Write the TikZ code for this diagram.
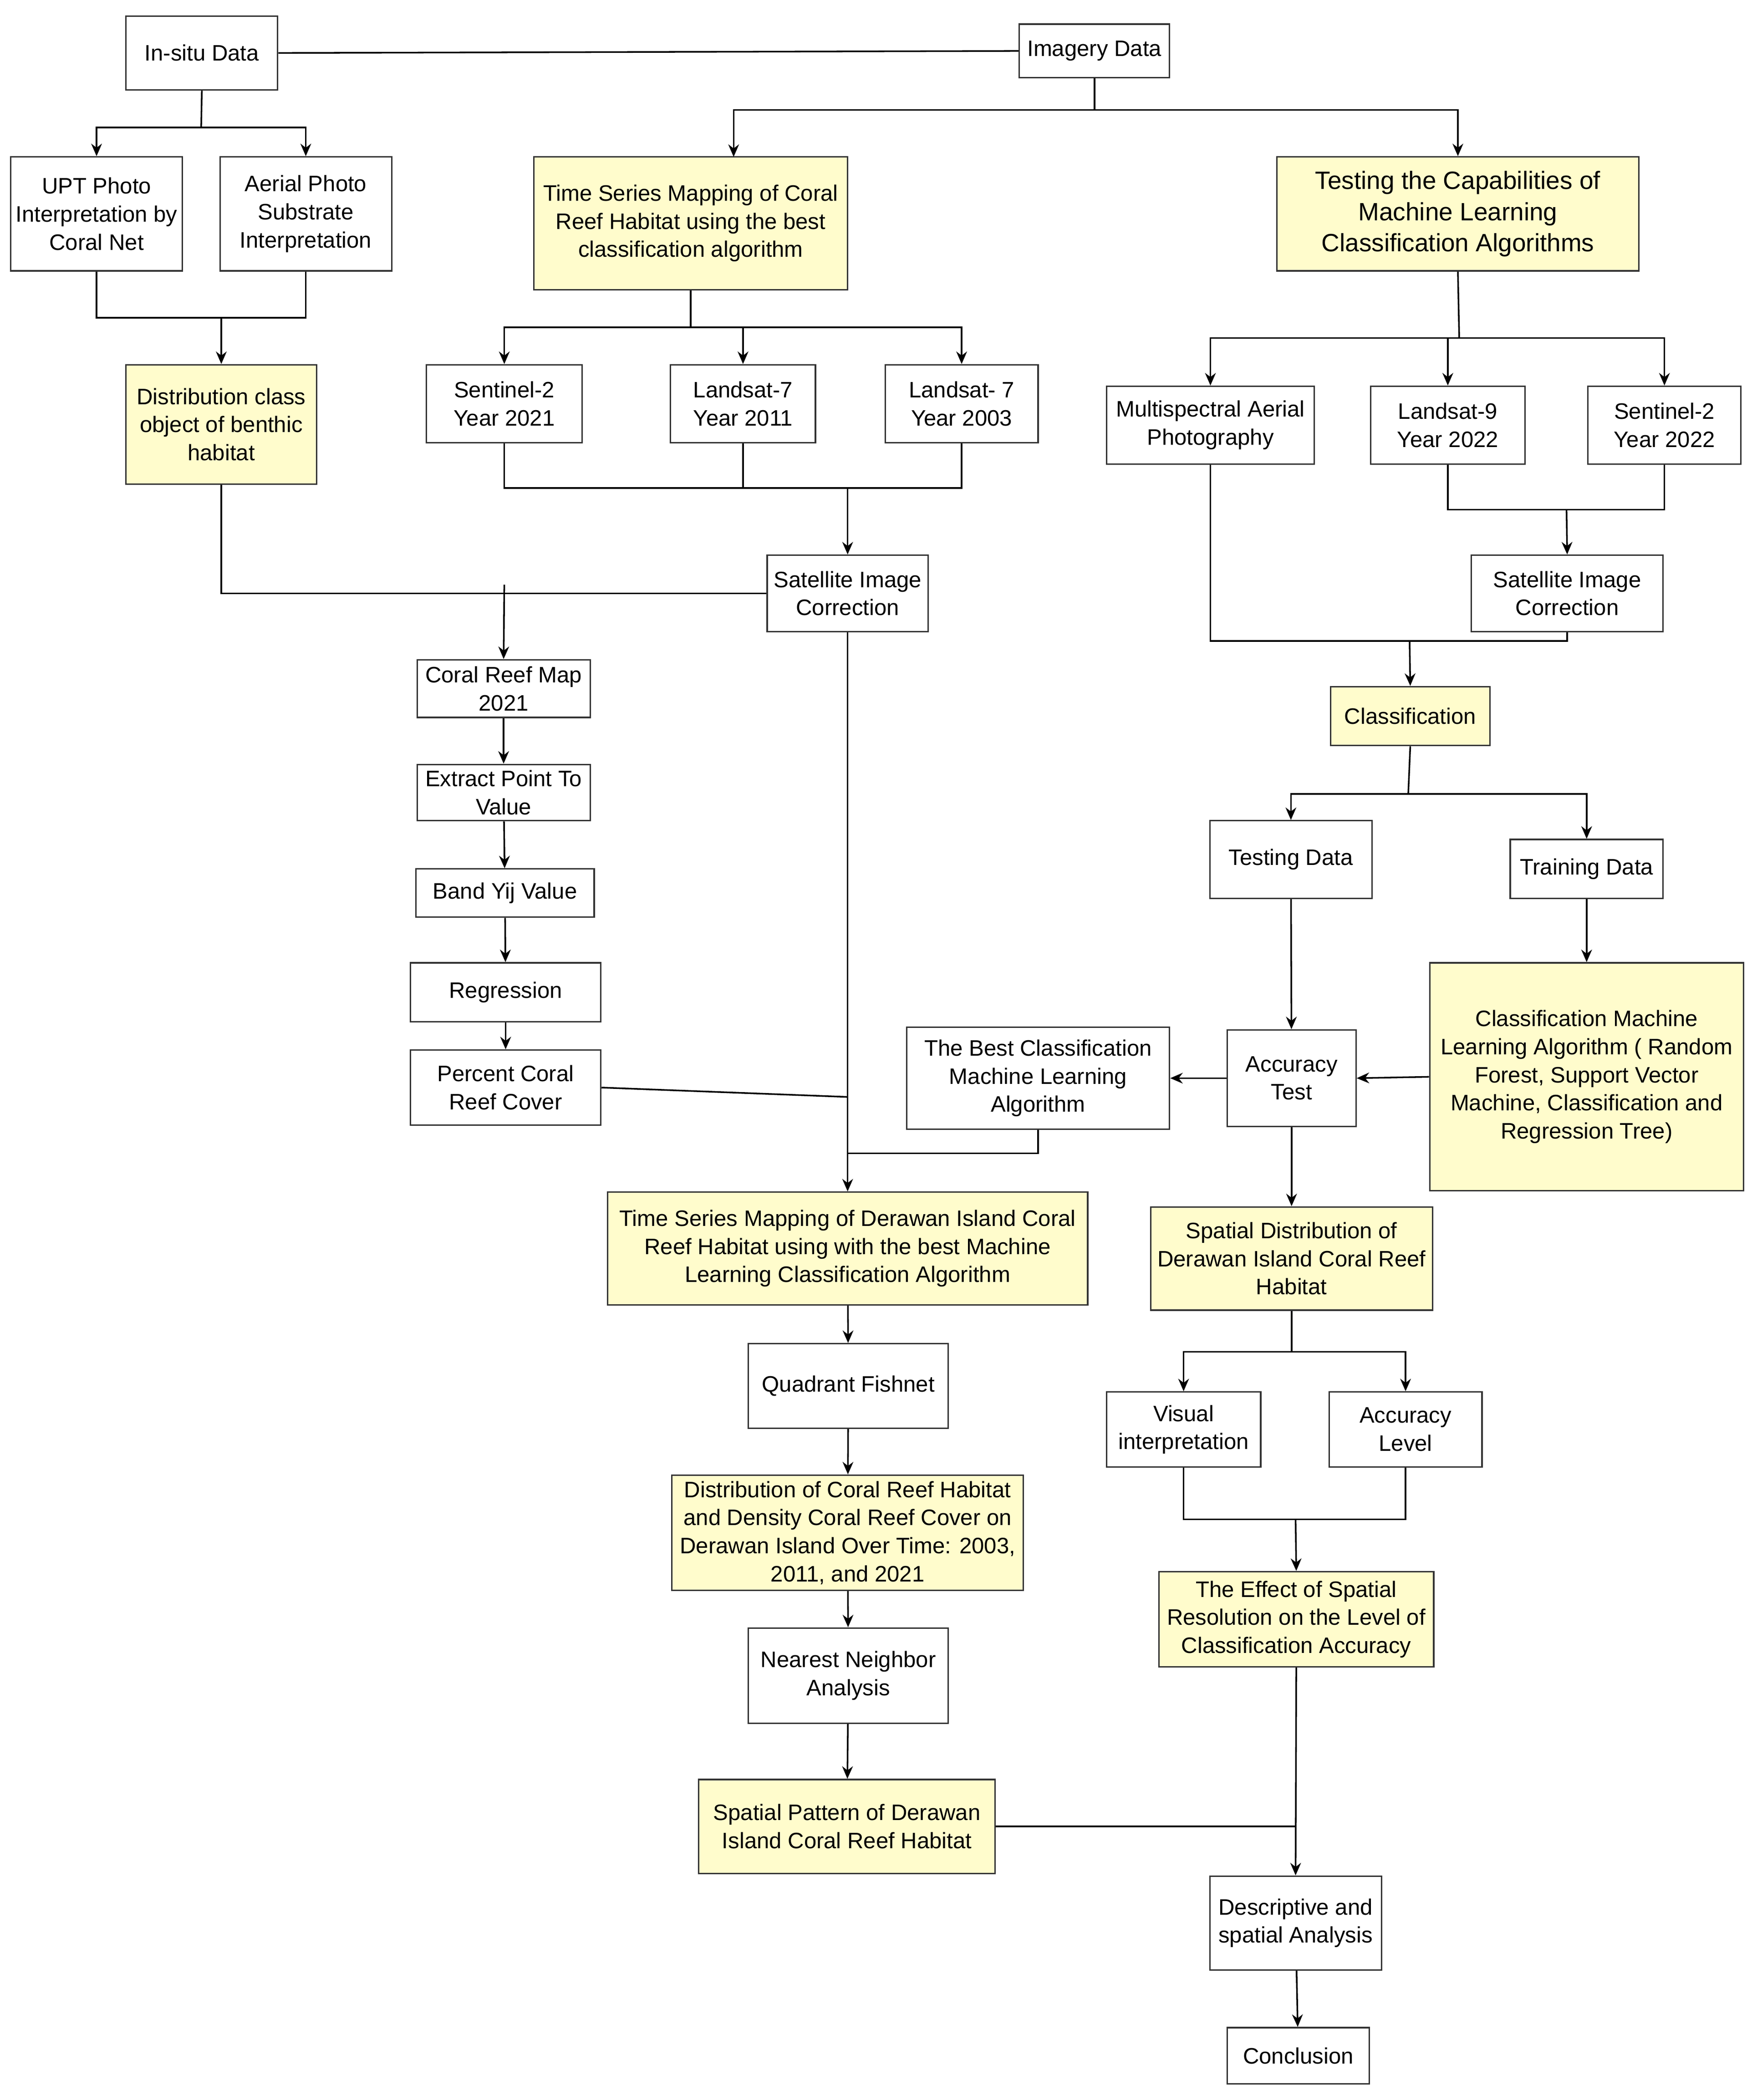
\documentclass[tikz,border=0pt]{standalone}
\usepackage{fontspec}
\setmainfont{Liberation Sans}
\usetikzlibrary{arrows.meta}
\begin{document}
\begin{tikzpicture}[x=0.75pt,y=-0.75pt,
 box/.style={draw=black!80,line width=0.8pt,fill=white,align=center,inner sep=1pt,font=\fontsize{12.5}{15.7}\selectfont},
 ybox/.style={box,fill=yellow!20},
 ln/.style={draw=black,line width=0.9pt},
 ar/.style={ln,-{Stealth[length=7pt,width=6pt]}}]
\fill[white] (0,0) rectangle (1310,1566);
\useasboundingbox (0,0) rectangle (1310,1566);
\newcommand{\bx}[7]{\node[#6,minimum width={(#4-#2)*0.75pt},minimum height={(#5-#3)*0.75pt}] (#1) at ({(#2+#4)/2},{(#3+#5)/2}) {#7};}
\bx{insitu}{94}{12}{207}{67}{box}{In-situ Data}
\bx{imagery}{760}{18}{872}{58}{box}{Imagery Data}
\bx{upt}{8}{117}{136}{202}{box}{UPT Photo\\Interpretation by\\Coral Net}
\bx{aerial}{164}{117}{292}{202}{box}{Aerial Photo\\Substrate\\Interpretation}
\bx{ts1}{398}{117}{632}{216}{ybox}{Time Series Mapping of Coral\\Reef Habitat using the best\\classification algorithm}
\bx{test}{952}{117}{1222}{202}{ybox,font=\fontsize{14}{17.5}\selectfont}{Testing the Capabilities of\\Machine Learning\\Classification Algorithms}
\bx{dist}{94}{272}{236}{361}{ybox}{Distribution class\\object of benthic\\habitat}
\bx{s2021}{318}{272}{434}{330}{box}{Sentinel-2\\Year 2021}
\bx{l2011}{500}{272}{608}{330}{box}{Landsat-7\\Year 2011}
\bx{l2003}{660}{272}{774}{330}{box}{Landsat- 7\\Year 2003}
\bx{msap}{825}{288}{980}{346}{box}{Multispectral Aerial\\Photography}
\bx{l9}{1022}{288}{1137}{346}{box}{Landsat-9\\Year 2022}
\bx{s2022}{1184}{288}{1298}{346}{box}{Sentinel-2\\Year 2022}
\bx{sic1}{572}{414}{692}{471}{box}{Satellite Image\\Correction}
\bx{sic2}{1097}{414}{1240}{471}{box}{Satellite Image\\Correction}
\bx{crm}{311}{492}{440}{535}{box}{Coral Reef Map\\2021}
\bx{class}{992}{512}{1111}{556}{ybox}{Classification}
\bx{ept}{311}{570}{440}{612}{box}{Extract Point To\\Value}
\bx{testing}{902}{612}{1023}{670}{box}{Testing Data}
\bx{training}{1126}{626}{1240}{670}{box}{Training Data}
\bx{band}{310}{648}{443}{684}{box}{Band Yij Value}
\bx{reg}{306}{718}{448}{762}{box}{Regression}
\bx{cml}{1066}{718}{1300}{888}{ybox}{Classification Machine\\Learning Algorithm ( Random\\Forest, Support Vector\\Machine, Classification and\\Regression Tree)}
\bx{best}{676}{766}{872}{842}{box}{The Best Classification\\Machine Learning\\Algorithm}
\bx{acc}{915}{768}{1011}{840}{box}{Accuracy\\Test}
\bx{pcr}{306}{783}{448}{839}{box}{Percent Coral\\Reef Cover}
\bx{ts2}{453}{889}{811}{973}{ybox}{Time Series Mapping of Derawan Island Coral\\Reef Habitat using with the best Machine\\Learning Classification Algorithm}
\bx{sdd}{858}{900}{1068}{977}{ybox}{Spatial Distribution of\\Derawan Island Coral Reef\\Habitat}
\bx{qf}{558}{1002}{707}{1065}{box}{Quadrant Fishnet}
\bx{vis}{825}{1038}{940}{1094}{box}{Visual\\interpretation}
\bx{accl}{991}{1038}{1105}{1094}{box}{Accuracy\\Level}
\bx{dcr}{501}{1100}{763}{1186}{ybox}{Distribution of Coral Reef Habitat\\and Density Coral Reef Cover on\\Derawan Island Over Time: 2003,\\2011, and 2021}
\bx{eff}{864}{1172}{1069}{1243}{ybox}{The Effect of Spatial\\Resolution on the Level of\\Classification Accuracy}
\bx{nn}{558}{1214}{707}{1285}{box}{Nearest Neighbor\\Analysis}
\bx{sp}{521}{1327}{742}{1397}{ybox}{Spatial Pattern of Derawan\\Island Coral Reef Habitat}
\bx{desc}{902}{1399}{1030}{1469}{box}{Descriptive and\\spatial Analysis}
\bx{concl}{915}{1512}{1021}{1554}{box}{Conclusion}
% connectors
\draw[ln] (insitu.east) -- (imagery.west);
\coordinate (j1) at (150,95);
\draw[ln] (insitu.south) -- (j1);
\draw[ar] (j1) -| (upt.north);
\draw[ar] (j1) -| (aerial.north);
\coordinate (j2) at (816,82);
\draw[ln] (imagery.south) -- (j2);
\draw[ar] (j2) -| (547,117);
\draw[ar] (j2) -| (test.north);
\coordinate (j3) at (165,237);
\draw[ln] (upt.south) |- (j3) -| (aerial.south);
\draw[ar] (j3) -- (dist.north);
\coordinate (j4) at (515,244);
\draw[ln] (ts1.south) -- (j4);
\draw[ar] (j4) -| (s2021.north);
\draw[ar] (j4) -| (l2011.north);
\draw[ar] (j4) -| (l2003.north);
\coordinate (j5) at (632,364);
\draw[ln] (s2021.south) |- (j5) -| (l2003.south);
\draw[ln] (l2011.south) -- (554,364);
\draw[ar] (j5) -- (sic1.north);
\coordinate (j6) at (1088,252);
\draw[ln] (test.south) -- (j6);
\draw[ar] (j6) -| (msap.north);
\draw[ar] (j6) -| (l9.north);
\draw[ar] (j6) -| (s2022.north);
\coordinate (j7) at (1168,380);
\draw[ln] (l9.south) |- (j7) -| (s2022.south);
\draw[ar] (j7) -- (sic2.north);
\coordinate (j8) at (1051,478);
\draw[ln] (msap.south) |- (j8) -| (sic2.south);
\draw[ar] (j8) -- (class.north);
\coordinate (j9) at (376,436);
\draw[ln] (dist.south) |- (sic1.west);
\draw[ar] (j9) -- (crm.north);
\draw[ar] (crm) -- (ept);
\draw[ar] (ept) -- (band);
\draw[ar] (band) -- (reg);
\draw[ar] (reg) -- (pcr);
\draw[ar] (sic1.south) -- (ts2.north);
\draw[ln] (pcr.east) -- (632,818);
\draw[ln] (best.south) |- (632,860);
\coordinate (j10) at (1050,592);
\draw[ln] (class.south) -- (j10);
\draw[ar] (j10) -| (testing.north);
\draw[ar] (j10) -| (training.north);
\draw[ar] (training) -- (cml);
\draw[ar] (testing) -- (acc);
\draw[ar] (cml.west) -- (acc.east);
\draw[ar] (acc.west) -- (best.east);
\draw[ar] (acc) -- (sdd);
\coordinate (j11) at (963,1008);
\draw[ln] (sdd.south) -- (j11);
\draw[ar] (j11) -| (vis.north);
\draw[ar] (j11) -| (accl.north);
\coordinate (j12) at (966,1133);
\draw[ln] (vis.south) |- (j12) -| (accl.south);
\draw[ar] (j12) -- (eff.north);
\draw[ar] (eff.south) -- (desc.north);
\draw[ln] (sp.east) -- (966,1362);
\draw[ar] (ts2) -- (qf);
\draw[ar] (qf) -- (dcr);
\draw[ar] (dcr) -- (nn);
\draw[ar] (nn) -- (sp);
\draw[ar] (desc) -- (concl);
\end{tikzpicture}
\end{document}
